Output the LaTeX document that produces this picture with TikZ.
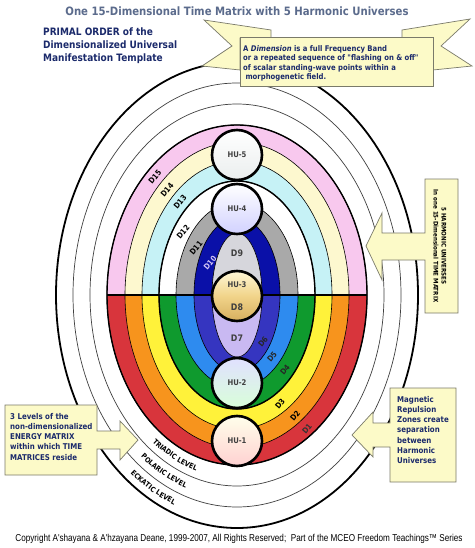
\documentclass[tikz,border=0pt]{standalone}
\usepackage{fontspec}
\usepackage{graphicx}
\usetikzlibrary{decorations.text}
\setmainfont{DejaVu Sans}
\newfontfamily\tfont[FakeStretch=0.88]{DejaVu Sans}
\newfontfamily\cfont{Liberation Sans}
\definecolor{navy}{HTML}{1B2A6B}
\definecolor{titlec}{HTML}{5B6B8C}
\definecolor{callfill}{HTML}{FCFAC8}
\definecolor{calldraw}{HTML}{7A7A6A}
\definecolor{cpink}{HTML}{F8C8EE}
\definecolor{cyel}{HTML}{FDF8CF}
\definecolor{ccyan}{HTML}{C6F2F6}
\definecolor{cgray}{HTML}{A9A9A9}
\definecolor{cdblue}{HTML}{0A10A8}
\definecolor{cdnine}{HTML}{D6D6DC}
\definecolor{cred}{HTML}{D8353C}
\definecolor{corange}{HTML}{F7941D}
\definecolor{cyellow}{HTML}{FFF23A}
\definecolor{cgreen}{HTML}{0F9A2E}
\definecolor{cblue}{HTML}{2E8BEF}
\definecolor{cindigo}{HTML}{3535C0}
\definecolor{clav}{HTML}{C9B9F2}
\definecolor{goldtop}{HTML}{FFF7D6}
\definecolor{goldmid}{HTML}{F1D48A}
\definecolor{goldbot}{HTML}{D6AE5E}
\tikzset{
  hu/.style={circle, draw=black, line width=2.6pt, minimum size=50pt, inner sep=0pt,
    font=\tfont\bfseries\fontsize{7.8}{9}\selectfont, text=black!75},
  band/.style={draw=black, line width=0.6pt},
  thickband/.style={draw=black, line width=1.4pt},
  dlab/.style={font=\tfont\bfseries\fontsize{7.8}{9}\selectfont, rotate=50, inner sep=0pt},
  dmid/.style={font=\tfont\bfseries\fontsize{9}{10}\selectfont, text=black!75, inner sep=0pt},
  lvltext/.style={decorate, decoration={text along path, text align=center,
    text={|\tfont\bfseries\fontsize{7.2}{8}\selectfont|#1}}},
  callout/.style={fill=callfill, draw=calldraw, line width=0.7pt},
  ctext/.style={anchor=north west, align=left, text=navy, inner sep=0pt,
    font=\tfont\bfseries\fontsize{8}{10.2}\selectfont}
}
\begin{document}
\begin{tikzpicture}[x=1pt,y=-1pt]
\fill[white] (0,0) rectangle (474,548);
\useasboundingbox (0,0) rectangle (474,548);

% outer level ellipses
\coordinate (ctr) at (237,295);
\draw[line width=1.8pt, fill=white] (ctr) ellipse [x radius=181, y radius=233];
\draw[line width=0.7pt, draw=black!75] (ctr) ellipse [x radius=164, y radius=212];
\draw[line width=0.7pt, draw=black!75] (ctr) ellipse [x radius=147, y radius=191];

% dimension bands
\foreach \a/\b/\cu/\cl in {130/170/cpink/cred, 112/153/cyel/corange, 95/134/ccyan/cyellow,
  78/114/white/cgreen, 61/93/cgray/cblue, 43/77/cdblue/cindigo, 25/62/cdnine/clav} {
  \begin{scope}
    \clip (0,0) rectangle (474,295);
    \fill[\cu] (ctr) ellipse [x radius=\a, y radius=\b];
  \end{scope}
  \begin{scope}
    \clip (0,295) rectangle (474,548);
    \fill[\cl] (ctr) ellipse [x radius=\a, y radius=\b];
  \end{scope}
  \draw[band] (ctr) ellipse [x radius=\a, y radius=\b];
}
\draw[thickband] (ctr) ellipse [x radius=130, y radius=170];
\draw[thickband] (ctr) ellipse [x radius=78, y radius=114];
\draw[line width=1.3pt] (107,295) -- (367,295);

% band labels
\node[dlab] (d15) at (155,177) {D15};
\node[dlab] (d14) at (167,190) {D14};
\node[dlab] (d13) at (180,202) {D13};
\node[dlab] (d12) at (183,232) {D12};
\node[dlab] (d11) at (196,248) {D11};
\node[dlab, text=clav!80!white] (d10) at (210,263) {D10};
\node[dlab, text=black!85] (d6) at (263,342) {D6};
\node[dlab, text=black!85] (d5) at (272,357) {D5};
\node[dlab, text=black!85] (d4) at (285,370) {D4};
\node[dlab] (d3) at (280,404) {D3};
\node[dlab] (d2) at (295,416) {D2};
\node[dlab, text=black!80] (d1) at (307,429) {D1};

\node[dmid] (d9) at (237,253) {D9};
\node[dmid] (d7) at (237,338) {D7};

% harmonic universe circles
\node[hu, top color=white, bottom color=cyan!8!gray!15] (hu5) at (237,155) {HU-5};
\node[hu, top color=white, bottom color=blue!18] (hu4) at (237,209) {HU-4};
\node[hu, top color=goldtop, bottom color=goldbot, middle color=goldmid] (hu3) at (237,296) {};
\node[hu, top color=blue!12, bottom color=green!15] (hu2) at (237,383) {HU-2};
\node[hu, top color=yellow!8, bottom color=red!18] (hu1) at (237,441) {HU-1};
\node[dmid, font=\tfont\bfseries\fontsize{7.8}{9}\selectfont] (hu3t) at (237,285) {HU-3};
\node[dmid] (d8) at (237,307) {D8};

% level labels along the rings
\path[lvltext={TRIADIC LEVEL}] (ctr) ++(132:141.5 and 183.5)
  arc[start angle=132, end angle=101, x radius=141.5, y radius=183.5];
\path[lvltext={POLARIC LEVEL}] (ctr) ++(133:158 and 204)
  arc[start angle=133, end angle=103, x radius=158, y radius=204];
\path[lvltext={ECKATIC LEVEL}] (ctr) ++(134:175 and 225)
  arc[start angle=134, end angle=104, x radius=175, y radius=225];

% title and heading
\node[font=\tfont\bfseries\fontsize{11.5}{13}\selectfont, text=titlec] (title) at (237,11)
  {One 15-Dimensional Time Matrix with 5 Harmonic Universes};
\node[anchor=north west, align=left, text=navy, inner sep=0pt,
  font=\tfont\bfseries\fontsize{10.2}{12.6}\selectfont] (primal) at (43,28)
  {PRIMAL ORDER of the\\Dimensionalized Universal\\Manifestation Template};

% banner
\draw[callout] (402,30) -- (470,19) -- (441,46) -- (472,66) -- (433,70) -- (433,38) -- (402,38) -- cycle;
\draw[callout] (271,30) -- (204,20) -- (232,46) -- (202,66) -- (240,70) -- (240,38) -- (271,38) -- cycle;
\draw[callout] (240,37) rectangle (433,86);
\node[ctext, font=\tfont\bfseries\fontsize{7.8}{9.6}\selectfont] (dimtext) at (243,45)
  {A \textit{Dimension} is a full Frequency Band\\or a repeated sequence of "flashing on \& off"\\of scalar standing-wave points within a\\\ morphogenetic field.};

% right callout (5 HU)
\draw[callout] (458,179) -- (425,179) -- (425,233) -- (382,233) -- (382,213) -- (366,246)
  -- (382,280) -- (382,260) -- (425,260) -- (425,313) -- (458,313) -- cycle;
\node[rotate=-90, align=center, inner sep=0pt, font=\tfont\bfseries\fontsize{6.3}{8}\selectfont]
  (hutext) at (440,246) {5 HARMONIC UNIVERSES\\In one 15-Dimensional TIME MATRIX};

% left callout
\draw[callout] (5,405) -- (97,405) -- (97,431) -- (120,431) -- (120,421) -- (138,440)
  -- (120,460) -- (120,449) -- (97,449) -- (97,475) -- (5,475) -- cycle;
\node[ctext] (energy) at (10,413)
  {3 Levels of the\\non-dimensionalized\\ENERGY MATRIX\\within which TIME\\MATRICES reside};

% right bottom callout
\draw[callout] (456,388) -- (390,388) -- (390,423) -- (373,423) -- (373,412) -- (352,435)
  -- (373,457) -- (373,447) -- (390,447) -- (390,482) -- (456,482) -- cycle;
\node[ctext] (magnetic) at (397,396)
  {Magnetic\\Repulsion\\Zones create\\separation\\between\\Harmonic\\Universes};

% copyright
\node[font=\cfont\fontsize{10}{12}\selectfont, inner sep=0pt] (copy) at (239,539)
  {\scalebox{0.815}[1]{Copyright A'shayana \& A'hzayana Deane, 1999-2007, All Rights Reserved;\ \ Part of the MCEO Freedom Teachings\texttrademark\ Series}};
\end{tikzpicture}
\end{document}
